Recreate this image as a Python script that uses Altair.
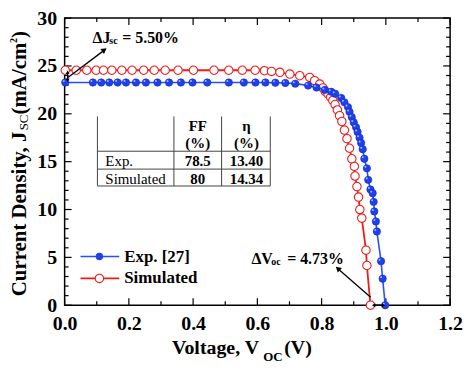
import altair as alt
import pandas as pd

# ---------------- data ----------------
exp_v = [0.002, 0.088, 0.114, 0.139, 0.165, 0.191, 0.222, 0.253, 0.289, 0.325,
         0.362, 0.398, 0.444, 0.511, 0.558, 0.594, 0.625, 0.656, 0.687, 0.718,
         0.758, 0.784, 0.810, 0.830, 0.842, 0.861, 0.871, 0.882, 0.887, 0.894,
         0.900, 0.907, 0.912, 0.918, 0.923, 0.928, 0.933, 0.941, 0.945, 0.952,
         0.959, 0.962, 0.964, 0.969, 0.972, 0.985, 0.990, 0.998]
exp_j = [23.27, 23.27, 23.27, 23.27, 23.27, 23.27, 23.27, 23.27, 23.27, 23.27,
         23.27, 23.27, 23.27, 23.27, 23.27, 23.27, 23.27, 23.25, 23.22, 23.15,
         22.95, 22.75, 22.50, 22.30, 22.10, 21.66, 21.20, 20.70, 20.20, 19.65,
         19.10, 18.60, 18.10, 17.50, 16.95, 16.30, 15.30, 14.30, 13.10, 12.10,
         11.70, 10.80, 9.80, 8.75, 7.70, 4.60, 2.77, 0.0]

sim_v = [0.002, 0.036, 0.069, 0.098, 0.121, 0.147, 0.178, 0.210, 0.246, 0.279,
         0.313, 0.353, 0.401, 0.465, 0.511, 0.553, 0.593, 0.622, 0.644, 0.670,
         0.701, 0.732, 0.763, 0.778, 0.794, 0.804, 0.811, 0.820, 0.828, 0.835,
         0.842, 0.849, 0.856, 0.863, 0.871, 0.879, 0.887, 0.894, 0.902, 0.904,
         0.910, 0.915, 0.919, 0.925, 0.938, 0.941, 0.952]
sim_j = [24.55, 24.55, 24.55, 24.55, 24.55, 24.55, 24.55, 24.55, 24.55, 24.55,
         24.55, 24.55, 24.55, 24.55, 24.55, 24.55, 24.55, 24.50, 24.43, 24.33,
         24.15, 23.98, 23.80, 23.46, 23.10, 22.70, 22.35, 22.08, 21.73, 21.40,
         20.97, 20.40, 19.80, 19.20, 18.30, 17.40, 16.40, 15.30, 14.50, 13.50,
         12.40, 11.30, 10.00, 9.10, 5.75, 4.15, 0.0]

x_ticks = [0.0, 0.2, 0.4, 0.6, 0.8, 1.0, 1.2]
x_minor = [0.1, 0.3, 0.5, 0.7, 0.9, 1.1]
y_ticks = [0, 5, 10, 15, 20, 25, 30]
y_minor = [1, 2, 3, 4, 6, 7, 8, 9, 11, 12, 13, 14, 16, 17, 18, 19,
           21, 22, 23, 24, 26, 27, 28, 29]

series_names = ["Exp. [27]", "Simulated"]
table_header = ["FF", "η"]
table_rows = ["Exp.", "Simulated"]
table_ff = ["78.5", "80"]
table_eta = ["13.40", "14.34"]

# ---------------- styling ----------------
W, H = 388, 289
FONT = "Liberation Serif"
BLUE = "#1f3ff0"
BLUE_LINE = "#2a4cff"
RED = "#ee1c1c"
ONE = alt.Data(values=[{"a": 0}])

xs = alt.Scale(domain=[0, 1.2], nice=False, zero=False)
ys = alt.Scale(domain=[0, 30], nice=False, zero=False)
xaxis = alt.Axis(values=x_ticks, format=".1f", ticks=False, domain=False, grid=False,
                 labelFont=FONT, labelFontWeight="bold", labelFontSize=20,
                 labelColor="black", labelPadding=8, labelFlush=False,
                 labelOverlap=False, title=None)
yaxis = alt.Axis(values=y_ticks, format="d", ticks=False, domain=False, grid=False,
                 labelFont=FONT, labelFontWeight="bold", labelFontSize=20,
                 labelColor="black", labelPadding=8, labelFlush=False,
                 labelOverlap=False, title=None)
X = alt.X("v:Q", scale=xs, axis=xaxis)
Y = alt.Y("j:Q", scale=ys, axis=yaxis)


def txt(s, x, y, size, weight="bold", align="left", baseline="alphabetic", angle=0):
    return alt.Chart(ONE).mark_text(
        text=s, font=FONT, fontSize=size, fontWeight=weight, align=align,
        baseline=baseline, angle=angle, color="black"
    ).encode(x=alt.value(x), y=alt.value(y))


def seg(x1, y1, x2, y2, color="black", width=1.0):
    return alt.Chart(ONE).mark_rule(color=color, strokeWidth=width).encode(
        x=alt.value(x1), y=alt.value(y1), x2=alt.value(x2), y2=alt.value(y2))


def head(x, y, angle, size=45):
    return alt.Chart(ONE).mark_point(
        shape="triangle-up", filled=True, color="black", opacity=1,
        size=size, angle=angle).encode(x=alt.value(x), y=alt.value(y))


exp_df = pd.DataFrame({"v": exp_v, "j": exp_j})
sim_df = pd.DataFrame({"v": sim_v, "j": sim_j})

layers = []

# ticks (inward, mirrored)
xt = pd.DataFrame({"v": x_ticks})
xm = pd.DataFrame({"v": x_minor})
yt = pd.DataFrame({"j": y_ticks})
ym = pd.DataFrame({"j": y_minor})
for df, ln in [(xt, 7), (xm, 4)]:
    layers.append(alt.Chart(df).mark_rule(color="black", strokeWidth=1.2).encode(
        x=X, y=alt.value(H), y2=alt.value(H - ln)))
    layers.append(alt.Chart(df).mark_rule(color="black", strokeWidth=1.2).encode(
        x=X, y=alt.value(0), y2=alt.value(ln)))
for df, ln in [(yt, 7), (ym, 4)]:
    layers.append(alt.Chart(df).mark_rule(color="black", strokeWidth=1.2).encode(
        y=Y, x=alt.value(0), x2=alt.value(ln)))
    layers.append(alt.Chart(df).mark_rule(color="black", strokeWidth=1.2).encode(
        y=Y, x=alt.value(W), x2=alt.value(W - ln)))

# table
tcol = "#444444"
for xv in [33, 110, 158, 207]:
    layers.append(seg(xv, 99, xv, 169, tcol, 1))
for yv in [134, 152, 169]:
    layers.append(seg(33, yv, 207, yv, tcol, 1))
layers.append(txt(table_header[0], 134, 109, 15, "bold", "center", "middle"))
layers.append(txt("(%)", 134, 126, 15, "bold", "center", "middle"))
layers.append(txt(table_header[1], 183, 109, 15, "bold", "center", "middle"))
layers.append(txt("(%)", 183, 126, 15, "bold", "center", "middle"))
for i, yy in enumerate([144, 162]):
    layers.append(txt(table_rows[i], 41, yy, 15, "normal", "left", "middle"))
    layers.append(txt(table_ff[i], 134, yy, 15, "bold", "center", "middle"))
    layers.append(txt(table_eta[i], 183, yy, 15, "bold", "center", "middle"))

# data: simulated (red, open circles)
layers.append(alt.Chart(sim_df).mark_line(color=RED, strokeWidth=1.8).encode(x=X, y=Y))
layers.append(alt.Chart(sim_df).mark_point(
    shape="circle", filled=True, fill="white", stroke=RED, strokeWidth=1.1,
    size=72, opacity=1).encode(x=X, y=Y))
# data: experiment (blue, filled balls)
layers.append(alt.Chart(exp_df).mark_line(color=BLUE_LINE, strokeWidth=1.6).encode(x=X, y=Y))
layers.append(alt.Chart(exp_df).mark_point(
    shape="circle", filled=True, color=BLUE, stroke="#1030b0", strokeWidth=0.6,
    size=55, opacity=1).encode(x=X, y=Y))
layers.append(alt.Chart(exp_df).mark_point(
    shape="circle", filled=True, color="#b8c4ff", size=4, opacity=0.9,
    xOffset=-1.5, yOffset=-1.5).encode(x=X, y=Y))

# legend
layers.append(seg(16, 240, 55, 240, BLUE_LINE, 1.6))
layers.append(alt.Chart(ONE).mark_point(shape="circle", filled=True, color=BLUE,
                                        size=55, opacity=1).encode(x=alt.value(35), y=alt.value(240)))
layers.append(txt(series_names[0], 60, 240, 17, "bold", "left", "middle"))
layers.append(seg(16, 262, 55, 262, RED, 1.8))
layers.append(alt.Chart(ONE).mark_point(shape="circle", filled=True, fill="white", stroke=RED,
                                        strokeWidth=1.1, size=72, opacity=1).encode(
    x=alt.value(35), y=alt.value(262)))
layers.append(txt(series_names[1], 60, 262, 17, "bold", "left", "middle"))

# annotation: delta Jsc
layers.append(txt("ΔJ", 28, 25, 16))
layers.append(txt("sc", 45, 26, 10))
layers.append(txt("= 5.50%", 58, 25, 16))
layers.append(seg(3, 60, 39, 33, "black", 1.3))
layers.append(head(40, 32, 54, 40))
layers.append(seg(3, 55, 3, 62, "black", 1.3))
layers.append(head(3, 54.5, 0, 16))
layers.append(head(3, 62.5, 180, 16))

# annotation: delta Voc
layers.append(txt("ΔV", 188, 248, 16))
layers.append(txt("oc", 208, 249, 10))
layers.append(txt("= 4.73%", 224, 248, 16))
layers.append(seg(308, 281, 276, 253, "black", 1.3))
layers.append(head(275, 252, 311.5, 40))
layers.append(seg(312, 289, 320, 289, "black", 1.6))
layers.append(head(311, 289, 270, 16))
layers.append(head(321, 289, 90, 16))

# axis titles (composed for sub/superscripts)
layers.append(txt("Voltage, V", 108, 338, 20))
layers.append(txt("OC", 200, 345, 13))
layers.append(txt("(V)", 221, 338, 20))

layers.append(txt("Current Density, J", -39, 280, 21, angle=270))
layers.append(txt("SC", -37, 113, 13, "normal", angle=270))
layers.append(txt("(mA/cm", -39, 97, 21, angle=270))
layers.append(txt("2", -48, 25, 10, angle=270))
layers.append(txt(")", -39, 20, 21, angle=270))

chart = alt.layer(*layers).properties(
    width=W, height=H,
    padding={"left": 57, "top": 9, "right": 16, "bottom": 57},
    autosize=alt.AutoSizeParams(type="none"),
    background="white",
).configure_view(stroke="black", strokeWidth=1.5)

chart.save("out.html", embed_options={"renderer": "svg", "actions": False})
